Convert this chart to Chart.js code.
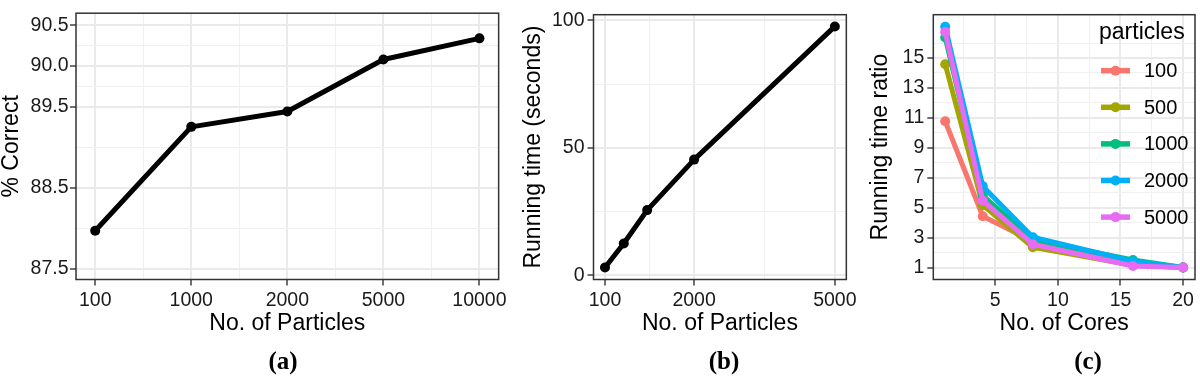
<!DOCTYPE html>
<html lang="en">
<head>
<meta charset="UTF-8">
<title>Particles: accuracy, running time, core scaling</title>
<script src="https://cdn.jsdelivr.net/npm/chart.js"></script>
<style>
  body { margin: 0; background: #fff; }
  #wrap { position: relative; width: 1200px; height: 376px; overflow: hidden; }
  canvas { position: absolute; top: 0; }
  .panel-label {
    position: absolute; top: 346px; width: 80px; margin-left: -40px; text-align: center;
    font-family: "Liberation Serif", "Times New Roman", serif; font-weight: bold;
    font-size: 25px; line-height: 30px; color: #000;
  }
</style>
</head>
<body>
<div id="wrap">
  <canvas id="chartA" width="510" height="376" style="left:0"></canvas>
  <canvas id="chartB" width="350" height="376" style="left:510px"></canvas>
  <canvas id="chartC" width="340" height="376" style="left:860px"></canvas>
  <div class="panel-label" style="left:283px">(a)</div>
  <div class="panel-label" style="left:724px">(b)</div>
  <div class="panel-label" style="left:1088px">(c)</div>
</div>
<script>
// (a) accuracy vs number of particles
const particleLabelsA = ['100', '1000', '2000', '5000', '10000'];
const percentCorrect = [87.97, 89.25, 89.44, 90.08, 90.34];
const correctTicks = [87.5, 88.5, 89.5, 90.0, 90.5];
const correctMinor = [88.0, 89.0, 89.75, 90.25];

// (b) running time vs number of particles
const particlesB = [100, 500, 1000, 2000, 5000];
const runningSeconds = [3.1, 12.5, 25.6, 45.4, 97.6];
const particleTicksB = [100, 2000, 5000];
const particleMinorB = [1050, 3500];
const secondsTicks = [0, 50, 100];
const secondsMinor = [25, 75];

// (c) running time ratio vs number of cores
const cores = [1, 4, 8, 16, 20];
const particleGroups = ['100', '500', '1000', '2000', '5000'];
const ratio100 = [10.78, 4.43, 2.75, 1.2, 1.0];
const ratio500 = [14.59, 5.17, 2.35, 1.15, 1.0];
const ratio1000 = [16.38, 5.8, 2.85, 1.5, 1.0];
const ratio2000 = [17.1, 6.44, 3.03, 1.42, 1.0];
const ratio5000 = [16.75, 5.48, 2.56, 1.1, 1.0];
const groupColors = ['#F8766D', '#A3A500', '#00BF7D', '#00B0F6', '#E76BF3'];
const coreTicks = [5, 10, 15, 20];
const coreMinor = [2.5, 7.5, 12.5, 17.5];
const ratioTicks = [1, 3, 5, 7, 9, 11, 13, 15];
const ratioMinor = [2, 4, 6, 8, 10, 12, 14, 16];

const FONT = '"Liberation Sans", Arial, Helvetica, sans-serif';
const TICK_SIZE = 19.5;
Chart.defaults.font.family = FONT;
Chart.defaults.font.size = TICK_SIZE;
Chart.defaults.animation = false;

// ggplot-ish axis: major + minor grid lines, ticks only on majors
function gridAxis(o) {
  const all = o.major.concat(o.minor).sort((a, b) => a - b);
  const isMajor = c => c.tick && o.major.includes(c.tick.value);
  return {
    type: 'linear',
    bounds: 'data',
    min: o.min,
    max: o.max,
    afterBuildTicks: s => { s.ticks = all.map(v => ({ value: v })); },
    afterFit: s => { if (s.isHorizontal()) s.height = o.size; else s.width = o.size; },
    ticks: {
      autoSkip: false, maxRotation: 0, padding: o.pad, color: '#1a1a1a',
      font: { family: FONT, size: TICK_SIZE, lineHeight: 1.2 },
      callback: v => o.major.includes(v) ? o.fmt(v) : ''
    },
    grid: {
      color: c => isMajor(c) ? '#EAEAEA' : '#F0F0F0',
      lineWidth: c => isMajor(c) ? 2 : 1.1,
      tickLength: 6,
      tickWidth: 1.4,
      tickColor: c => isMajor(c) ? '#333333' : 'rgba(0,0,0,0)'
    },
    border: { display: false },
    title: {
      display: true, text: o.title, color: '#000',
      font: { family: FONT, size: 23, lineHeight: 1 },
      padding: o.titlePad
    }
  };
}

const panelBox = {
  id: 'panelBox',
  afterDraw(chart) {
    const { ctx, chartArea: a } = chart;
    ctx.save();
    ctx.strokeStyle = '#333333';
    ctx.lineWidth = 1.5;
    ctx.strokeRect(a.left, a.top, a.right - a.left, a.bottom - a.top);
    ctx.restore();
  }
};

// legend drawn inside the panel, top right, no background
const insideLegend = {
  id: 'insideLegend',
  afterDraw(chart) {
    const { ctx, chartArea: a } = chart;
    const x0 = a.right - 94;
    ctx.save();
    ctx.textAlign = 'left';
    ctx.fillStyle = '#000';
    ctx.font = '23px ' + FONT;
    ctx.textBaseline = 'alphabetic';
    ctx.fillText('particles', x0 - 2, a.top + 24);
    ctx.font = '20px ' + FONT;
    ctx.textBaseline = 'middle';
    chart.data.datasets.forEach((ds, i) => {
      const y = a.top + 56 + i * 36.6;
      ctx.strokeStyle = ds.borderColor;
      ctx.lineWidth = 5.5;
      ctx.beginPath(); ctx.moveTo(x0, y); ctx.lineTo(x0 + 29, y); ctx.stroke();
      ctx.fillStyle = ds.borderColor;
      ctx.beginPath(); ctx.arc(x0 + 14.5, y, 5, 0, Math.PI * 2); ctx.fill();
      ctx.fillStyle = '#000';
      ctx.fillText(ds.label, x0 + 43, y + 1);
    });
    ctx.restore();
  }
};

function blackLine(points) {
  return {
    data: points,
    borderColor: '#000', backgroundColor: '#000',
    borderWidth: 5, pointRadius: 5, pointBorderWidth: 0,
    pointBackgroundColor: '#000', tension: 0, borderJoinStyle: 'round'
  };
}

const baseOptions = (padRight, scales) => ({
  responsive: false,
  devicePixelRatio: 1,
  layout: { padding: { left: 0, right: padRight, top: 1, bottom: 0 } },
  plugins: { legend: { display: false }, tooltip: { enabled: false } },
  scales
});

new Chart(document.getElementById('chartA'), {
  type: 'line',
  data: { datasets: [blackLine(percentCorrect.map((y, i) => ({ x: i + 1, y })))] },
  options: baseOptions(10, {
    x: gridAxis({ min: 0.8, max: 5.2, major: [1, 2, 3, 4, 5], minor: [1.5, 2.5, 3.5, 4.5],
      fmt: v => particleLabelsA[v - 1], size: 96.5, pad: 3,
      title: 'No. of Particles', titlePad: { top: 0, bottom: 41.2 } }),
    y: gridAxis({ min: 87.37, max: 90.65, major: correctTicks, minor: correctMinor,
      fmt: v => v.toFixed(1), size: 76, pad: 1.5,
      title: '% Correct', titlePad: { top: -0.3, bottom: 0 } })
  }),
  plugins: [panelBox]
});

new Chart(document.getElementById('chartB'), {
  type: 'line',
  data: { datasets: [blackLine(runningSeconds.map((y, i) => ({ x: particlesB[i], y })))] },
  options: baseOptions(10.3, {
    x: gridAxis({ min: -145, max: 5245, major: particleTicksB, minor: particleMinorB,
      fmt: v => String(v), size: 96.5, pad: 3,
      title: 'No. of Particles', titlePad: { top: 0, bottom: 41.2 } }),
    y: gridAxis({ min: -1.6, max: 102.2, major: secondsTicks, minor: secondsMinor,
      fmt: v => String(v), size: 83.5, pad: 3,
      title: 'Running time (seconds)', titlePad: { top: 12, bottom: 0 } })
  }),
  plugins: [panelBox]
});

const ratioSeries = [ratio100, ratio500, ratio1000, ratio2000, ratio5000];
new Chart(document.getElementById('chartC'), {
  type: 'line',
  data: {
    datasets: ratioSeries.map((vals, i) => ({
      label: particleGroups[i],
      data: vals.map((y, j) => ({ x: cores[j], y })),
      borderColor: groupColors[i], backgroundColor: groupColors[i],
      pointBackgroundColor: groupColors[i],
      borderWidth: 5, pointRadius: 5, pointBorderWidth: 0,
      tension: 0, borderJoinStyle: 'round',
      order: -i
    }))
  },
  options: baseOptions(1, {
    x: gridAxis({ min: 0.05, max: 20.95, major: coreTicks, minor: coreMinor,
      fmt: v => String(v), size: 96.5, pad: 3,
      title: 'No. of Cores', titlePad: { top: 0, bottom: 41.2 } }),
    y: gridAxis({ min: 0.2, max: 17.9, major: ratioTicks, minor: ratioMinor,
      fmt: v => String(v), size: 73.3, pad: 3,
      title: 'Running time ratio', titlePad: { top: 9.5, bottom: 0 } })
  }),
  plugins: [panelBox, insideLegend]
});
</script>
</body>
</html>
